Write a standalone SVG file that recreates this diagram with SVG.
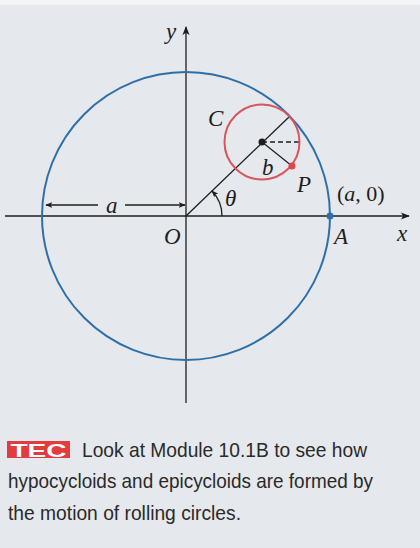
<svg xmlns="http://www.w3.org/2000/svg" width="420" height="548" viewBox="0 0 420 548">
<defs>
<style>
.ax{stroke:#1e1e1e;stroke-width:1.3;fill:none}
.lbl{font-family:"Liberation Serif",serif;font-style:italic;font-size:23px;fill:#1e1e1e}
.num{font-family:"Liberation Serif",serif;font-size:22px;fill:#1e1e1e}
.cap{font-family:"Liberation Sans",sans-serif;font-size:21px;fill:#2a2a2a}
</style>
<marker id="ah" viewBox="0 0 10 10" refX="9" refY="5" markerWidth="7" markerHeight="7" orient="auto" markerUnits="userSpaceOnUse">
<path d="M0,1 L10,5 L0,9 L2.5,5 Z" fill="#1e1e1e"/>
</marker>
<marker id="ahs" viewBox="0 0 10 10" refX="9" refY="5" markerWidth="9" markerHeight="9" orient="auto" markerUnits="userSpaceOnUse">
<path d="M0,1 L10,5 L0,9 L2.5,5 Z" fill="#1e1e1e"/>
</marker>
</defs>
<rect width="420" height="548" fill="#e5e8ec"/>
<rect width="420" height="5" fill="#f4f5f6"/>
<g id="connectors">
<line id="x-axis" class="ax" x1="5" y1="216" x2="409" y2="216" marker-end="url(#ahs)"/>
<line id="y-axis" class="ax" x1="186" y1="403" x2="186" y2="27" marker-end="url(#ahs)"/>
<line id="ray" class="ax" x1="186" y1="216" x2="289" y2="117"/>
<line id="radius-b" class="ax" x1="262" y1="142" x2="292" y2="166"/>
<line id="dash" class="ax" x1="262" y1="142" x2="300" y2="142" stroke-dasharray="5,3"/>
<line id="a-left" class="ax" x1="98" y1="205" x2="46" y2="205" marker-end="url(#ah)"/>
<line id="a-right" class="ax" x1="125" y1="205" x2="185" y2="205" marker-end="url(#ah)"/>
<path id="theta-arc" class="ax" d="M222,216 A36,36 0 0 0 212,191" marker-end="url(#ah)"/>
</g>
<g id="big-circle">
<circle cx="186" cy="216" r="144" fill="none" stroke="#2f6fa8" stroke-width="2"/>
<circle cx="330" cy="216" r="3.5" fill="#2f6fa8"/>
</g>
<g id="small-circle">
<circle cx="262" cy="142" r="37.5" fill="none" stroke="#d9555d" stroke-width="2"/>
<circle cx="262" cy="142" r="3.5" fill="#1e1e1e"/>
<circle cx="292" cy="166" r="3.5" fill="#e04550"/>
</g>
<g id="labels">
<text class="lbl" x="166" y="39">y</text>
<text class="lbl" x="208" y="126">C</text>
<text class="lbl" x="262" y="175">b</text>
<text class="lbl" x="297" y="192">P</text>
<text class="lbl" x="225" y="206">θ</text>
<text class="num" x="337" y="201">(<tspan font-style="italic">a</tspan>, 0)</text>
<text class="lbl" x="106" y="213">a</text>
<text class="lbl" x="164" y="244">O</text>
<text class="lbl" x="334" y="244">A</text>
<text class="lbl" x="397" y="241">x</text>
</g>
<g id="tec-note">
<rect x="7" y="441" width="63" height="17" fill="#e23c3f"/>
<text x="38.5" y="456.5" text-anchor="middle" font-family="Liberation Sans,sans-serif" font-weight="bold" font-size="19" fill="#ffffff" textLength="56" lengthAdjust="spacingAndGlyphs">TEC</text>
<text class="cap" x="82" y="457" textLength="285" lengthAdjust="spacingAndGlyphs">Look at Module 10.1B to see how</text>
<text class="cap" x="8" y="488" textLength="365" lengthAdjust="spacingAndGlyphs">hypocycloids and epicycloids are formed by</text>
<text class="cap" x="8" y="520" textLength="233" lengthAdjust="spacingAndGlyphs">the motion of rolling circles.</text>
</g>
</svg>
